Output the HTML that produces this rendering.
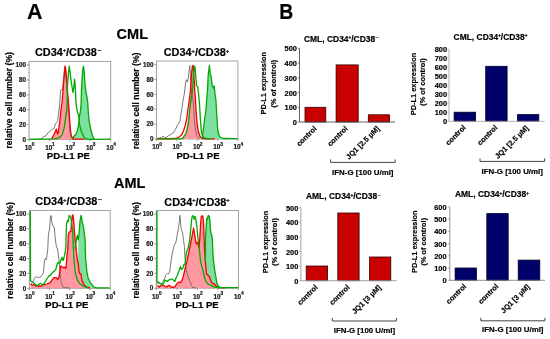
<!DOCTYPE html>
<html><head><meta charset="utf-8"><style>
html,body{margin:0;padding:0;background:#fff;width:550px;height:339px;overflow:hidden}
svg{display:block;will-change:transform}
</style></head><body>
<svg width="550" height="339" viewBox="0 0 550 339" font-family="&quot;Liberation Sans&quot;, sans-serif" font-weight="bold">
<style>text{stroke:currentColor;stroke-width:0.18px}</style>
<rect width="550" height="339" fill="#fff"/>
<text transform="translate(26.9 18.8) scale(0.95 1)" font-size="22.6">A</text>
<text transform="translate(279.2 18.8) scale(0.86 1)" font-size="22.6">B</text>
<text x="132.3" y="39.1" font-size="14.5" text-anchor="middle" fill="#000" >CML</text>
<text x="129.7" y="187.6" font-size="14.5" text-anchor="middle" fill="#000" >AML</text>
<rect x="29.1" y="61.4" width="81.6" height="78.1" fill="none" stroke="#9a9a9a" stroke-width="0.9"/>
<line x1="26.900000000000002" y1="139.5" x2="29.1" y2="139.5" stroke="#777" stroke-width="0.7"/>
<text x="25.900000000000002" y="141.7" font-size="6.3" text-anchor="end" fill="#222" >0</text>
<line x1="26.900000000000002" y1="124.62" x2="29.1" y2="124.62" stroke="#777" stroke-width="0.7"/>
<text x="25.900000000000002" y="126.82000000000001" font-size="6.3" text-anchor="end" fill="#222" >20</text>
<line x1="26.900000000000002" y1="109.74000000000001" x2="29.1" y2="109.74000000000001" stroke="#777" stroke-width="0.7"/>
<text x="25.900000000000002" y="111.94000000000001" font-size="6.3" text-anchor="end" fill="#222" >40</text>
<line x1="26.900000000000002" y1="94.86000000000001" x2="29.1" y2="94.86000000000001" stroke="#777" stroke-width="0.7"/>
<text x="25.900000000000002" y="97.06000000000002" font-size="6.3" text-anchor="end" fill="#222" >60</text>
<line x1="26.900000000000002" y1="79.98" x2="29.1" y2="79.98" stroke="#777" stroke-width="0.7"/>
<text x="25.900000000000002" y="82.18" font-size="6.3" text-anchor="end" fill="#222" >80</text>
<line x1="26.900000000000002" y1="65.10000000000001" x2="29.1" y2="65.10000000000001" stroke="#777" stroke-width="0.7"/>
<text x="25.900000000000002" y="67.30000000000001" font-size="6.3" text-anchor="end" fill="#222" >100</text>
<line x1="28.0" y1="139.5" x2="29.1" y2="139.5" stroke="#999" stroke-width="0.5"/>
<line x1="28.0" y1="135.78" x2="29.1" y2="135.78" stroke="#999" stroke-width="0.5"/>
<line x1="28.0" y1="132.06" x2="29.1" y2="132.06" stroke="#999" stroke-width="0.5"/>
<line x1="28.0" y1="128.34" x2="29.1" y2="128.34" stroke="#999" stroke-width="0.5"/>
<line x1="28.0" y1="124.62" x2="29.1" y2="124.62" stroke="#999" stroke-width="0.5"/>
<line x1="28.0" y1="120.9" x2="29.1" y2="120.9" stroke="#999" stroke-width="0.5"/>
<line x1="28.0" y1="117.18" x2="29.1" y2="117.18" stroke="#999" stroke-width="0.5"/>
<line x1="28.0" y1="113.46000000000001" x2="29.1" y2="113.46000000000001" stroke="#999" stroke-width="0.5"/>
<line x1="28.0" y1="109.74000000000001" x2="29.1" y2="109.74000000000001" stroke="#999" stroke-width="0.5"/>
<line x1="28.0" y1="106.02000000000001" x2="29.1" y2="106.02000000000001" stroke="#999" stroke-width="0.5"/>
<line x1="28.0" y1="102.30000000000001" x2="29.1" y2="102.30000000000001" stroke="#999" stroke-width="0.5"/>
<line x1="28.0" y1="98.58" x2="29.1" y2="98.58" stroke="#999" stroke-width="0.5"/>
<line x1="28.0" y1="94.86000000000001" x2="29.1" y2="94.86000000000001" stroke="#999" stroke-width="0.5"/>
<line x1="28.0" y1="91.14" x2="29.1" y2="91.14" stroke="#999" stroke-width="0.5"/>
<line x1="28.0" y1="87.42000000000002" x2="29.1" y2="87.42000000000002" stroke="#999" stroke-width="0.5"/>
<line x1="28.0" y1="83.7" x2="29.1" y2="83.7" stroke="#999" stroke-width="0.5"/>
<line x1="28.0" y1="79.98" x2="29.1" y2="79.98" stroke="#999" stroke-width="0.5"/>
<line x1="28.0" y1="76.26000000000002" x2="29.1" y2="76.26000000000002" stroke="#999" stroke-width="0.5"/>
<line x1="28.0" y1="72.54" x2="29.1" y2="72.54" stroke="#999" stroke-width="0.5"/>
<line x1="28.0" y1="68.82000000000001" x2="29.1" y2="68.82000000000001" stroke="#999" stroke-width="0.5"/>
<line x1="28.0" y1="65.10000000000001" x2="29.1" y2="65.10000000000001" stroke="#999" stroke-width="0.5"/>
<line x1="29.1" y1="139.5" x2="29.1" y2="141.5" stroke="#777" stroke-width="0.7"/>
<text x="28.3" y="149.8" font-size="6.4" text-anchor="middle" fill="#222" >10</text>
<text x="33.0" y="146.3" font-size="4.8" text-anchor="middle" fill="#222" >0</text>
<line x1="49.5" y1="139.5" x2="49.5" y2="141.5" stroke="#777" stroke-width="0.7"/>
<text x="48.7" y="149.8" font-size="6.4" text-anchor="middle" fill="#222" >10</text>
<text x="53.4" y="146.3" font-size="4.8" text-anchor="middle" fill="#222" >1</text>
<line x1="69.9" y1="139.5" x2="69.9" y2="141.5" stroke="#777" stroke-width="0.7"/>
<text x="69.10000000000001" y="149.8" font-size="6.4" text-anchor="middle" fill="#222" >10</text>
<text x="73.80000000000001" y="146.3" font-size="4.8" text-anchor="middle" fill="#222" >2</text>
<line x1="90.3" y1="139.5" x2="90.3" y2="141.5" stroke="#777" stroke-width="0.7"/>
<text x="89.5" y="149.8" font-size="6.4" text-anchor="middle" fill="#222" >10</text>
<text x="94.2" y="146.3" font-size="4.8" text-anchor="middle" fill="#222" >3</text>
<line x1="110.69999999999999" y1="139.5" x2="110.69999999999999" y2="141.5" stroke="#777" stroke-width="0.7"/>
<text x="109.89999999999999" y="149.8" font-size="6.4" text-anchor="middle" fill="#222" >10</text>
<text x="114.6" y="146.3" font-size="4.8" text-anchor="middle" fill="#222" >4</text>
<polyline points="51.7,139.3 52.9,136.3 54.1,134.5 55.3,131.4 56.3,129.0 57.1,132.6 57.7,133.9 58.3,132.6 58.9,127.8 59.9,120.6 60.7,112.1 61.5,106.0 62.2,101.0 63.4,85.5 64.4,73.8 65.2,66.1 66.0,71.4 66.7,79.6 67.5,91.4 68.3,100.0 69.2,112.0 69.8,122.0 70.4,130.0 71.4,136.0 73.3,139.3 73.3,139.5 51.7,139.5" fill="#ff98a0" stroke="none" stroke-width="0" stroke-linejoin="round" />
<polyline points="73.3,139.3 73.9,136.3 75.7,134.5 77.5,130.2 78.7,124.2 79.2,120.0 79.5,115.7 80.3,112.1 81.0,106.0 81.2,100.0 81.5,90.0 82.3,75.0 83.0,68.0 83.5,66.1 84.3,73.8 85.1,85.6 86.0,92.0 87.0,97.4 87.7,102.0 88.3,112.5 89.2,121.5 90.7,129.0 92.2,135.0 93.7,138.7 95.0,139.3 95.0,139.5 73.3,139.5" fill="#7ee0a0" stroke="none" stroke-width="0" stroke-linejoin="round" />
<polyline points="29.5,139.3 41.0,139.3 43.2,136.9 46.2,135.7 48.0,132.6 49.3,132.0 50.5,130.8 51.7,129.6 52.9,129.0 54.1,128.4 55.3,124.2 56.5,122.4 57.7,120.6 58.3,115.7 58.9,110.9 59.5,106.0 59.9,102.0 60.5,90.2 61.6,89.6 62.5,90.2 63.4,79.6 64.6,67.9 65.2,66.1 65.8,77.3 66.4,82.6 67.2,85.0 66.9,87.3 67.5,95.0 68.3,105.0 69.2,120.0 70.0,132.0 71.0,137.5 73.0,139.3" fill="none" stroke="#6a6a6a" stroke-width="0.9" stroke-linejoin="round" />
<polyline points="51.7,139.3 52.9,136.3 54.1,134.5 55.3,131.4 56.3,129.0 57.1,132.6 57.7,133.9 58.3,132.6 58.9,127.8 59.9,120.6 60.7,112.1 61.5,106.0 62.2,101.0 63.4,85.5 64.4,73.8 65.2,66.1 66.0,71.4 66.7,79.6 67.5,91.4 68.3,100.0 69.2,112.0 69.8,122.0 70.4,130.0 71.4,136.0 73.3,139.1 84.0,139.2" fill="none" stroke="#f50000" stroke-width="1.3" stroke-linejoin="round" />
<polyline points="73.3,139.3 73.9,136.3 75.7,134.5 77.5,130.2 78.7,124.2 79.2,120.0 79.5,115.7 80.3,112.1 81.0,106.0 81.2,100.0 81.5,90.0 82.3,75.0 83.0,68.0 83.5,66.1 84.3,73.8 85.1,85.6 86.0,92.0 87.0,97.4 87.7,102.0 88.3,112.5 89.2,121.5 90.7,129.0 92.2,135.0 93.7,138.7 95.0,139.3 110.5,139.2" fill="none" stroke="#00a800" stroke-width="1.3" stroke-linejoin="round" />
<polyline points="29.5,139.3 54.1,138.9 57.7,138.3 60.1,136.9 62.0,135.1 63.2,131.4 64.4,126.6 65.6,118.1 66.8,109.7 67.2,102.0 67.5,85.5 68.4,73.8 69.3,66.1 70.5,76.1 71.4,83.2 71.9,86.0 73.1,92.7 74.0,85.6 74.5,79.1 75.2,85.6 75.7,95.0 75.8,100.0 76.3,106.0 77.5,112.1 78.7,115.7 79.1,120.0 79.5,124.2 80.2,127.0 81.1,130.2 82.3,133.9 83.9,136.9 85.3,138.7 88.0,139.3 95.0,139.3" fill="none" stroke="#00a800" stroke-width="1.3" stroke-linejoin="round" />
<rect x="156.6" y="61.0" width="81.3" height="78.0" fill="none" stroke="#9a9a9a" stroke-width="0.9"/>
<line x1="154.4" y1="139.0" x2="156.6" y2="139.0" stroke="#777" stroke-width="0.7"/>
<text x="153.4" y="141.2" font-size="6.3" text-anchor="end" fill="#222" >0</text>
<line x1="154.4" y1="124.14" x2="156.6" y2="124.14" stroke="#777" stroke-width="0.7"/>
<text x="153.4" y="126.34" font-size="6.3" text-anchor="end" fill="#222" >20</text>
<line x1="154.4" y1="109.28" x2="156.6" y2="109.28" stroke="#777" stroke-width="0.7"/>
<text x="153.4" y="111.48" font-size="6.3" text-anchor="end" fill="#222" >40</text>
<line x1="154.4" y1="94.42" x2="156.6" y2="94.42" stroke="#777" stroke-width="0.7"/>
<text x="153.4" y="96.62" font-size="6.3" text-anchor="end" fill="#222" >60</text>
<line x1="154.4" y1="79.56" x2="156.6" y2="79.56" stroke="#777" stroke-width="0.7"/>
<text x="153.4" y="81.76" font-size="6.3" text-anchor="end" fill="#222" >80</text>
<line x1="154.4" y1="64.7" x2="156.6" y2="64.7" stroke="#777" stroke-width="0.7"/>
<text x="153.4" y="66.9" font-size="6.3" text-anchor="end" fill="#222" >100</text>
<line x1="155.5" y1="139.0" x2="156.6" y2="139.0" stroke="#999" stroke-width="0.5"/>
<line x1="155.5" y1="135.285" x2="156.6" y2="135.285" stroke="#999" stroke-width="0.5"/>
<line x1="155.5" y1="131.57" x2="156.6" y2="131.57" stroke="#999" stroke-width="0.5"/>
<line x1="155.5" y1="127.855" x2="156.6" y2="127.855" stroke="#999" stroke-width="0.5"/>
<line x1="155.5" y1="124.14" x2="156.6" y2="124.14" stroke="#999" stroke-width="0.5"/>
<line x1="155.5" y1="120.425" x2="156.6" y2="120.425" stroke="#999" stroke-width="0.5"/>
<line x1="155.5" y1="116.71000000000001" x2="156.6" y2="116.71000000000001" stroke="#999" stroke-width="0.5"/>
<line x1="155.5" y1="112.995" x2="156.6" y2="112.995" stroke="#999" stroke-width="0.5"/>
<line x1="155.5" y1="109.28" x2="156.6" y2="109.28" stroke="#999" stroke-width="0.5"/>
<line x1="155.5" y1="105.565" x2="156.6" y2="105.565" stroke="#999" stroke-width="0.5"/>
<line x1="155.5" y1="101.85" x2="156.6" y2="101.85" stroke="#999" stroke-width="0.5"/>
<line x1="155.5" y1="98.13499999999999" x2="156.6" y2="98.13499999999999" stroke="#999" stroke-width="0.5"/>
<line x1="155.5" y1="94.42" x2="156.6" y2="94.42" stroke="#999" stroke-width="0.5"/>
<line x1="155.5" y1="90.705" x2="156.6" y2="90.705" stroke="#999" stroke-width="0.5"/>
<line x1="155.5" y1="86.99000000000001" x2="156.6" y2="86.99000000000001" stroke="#999" stroke-width="0.5"/>
<line x1="155.5" y1="83.275" x2="156.6" y2="83.275" stroke="#999" stroke-width="0.5"/>
<line x1="155.5" y1="79.56" x2="156.6" y2="79.56" stroke="#999" stroke-width="0.5"/>
<line x1="155.5" y1="75.845" x2="156.6" y2="75.845" stroke="#999" stroke-width="0.5"/>
<line x1="155.5" y1="72.13" x2="156.6" y2="72.13" stroke="#999" stroke-width="0.5"/>
<line x1="155.5" y1="68.415" x2="156.6" y2="68.415" stroke="#999" stroke-width="0.5"/>
<line x1="155.5" y1="64.7" x2="156.6" y2="64.7" stroke="#999" stroke-width="0.5"/>
<line x1="156.6" y1="139.0" x2="156.6" y2="141.0" stroke="#777" stroke-width="0.7"/>
<text x="155.79999999999998" y="149.3" font-size="6.4" text-anchor="middle" fill="#222" >10</text>
<text x="160.5" y="145.8" font-size="4.8" text-anchor="middle" fill="#222" >0</text>
<line x1="176.92499999999998" y1="139.0" x2="176.92499999999998" y2="141.0" stroke="#777" stroke-width="0.7"/>
<text x="176.12499999999997" y="149.3" font-size="6.4" text-anchor="middle" fill="#222" >10</text>
<text x="180.825" y="145.8" font-size="4.8" text-anchor="middle" fill="#222" >1</text>
<line x1="197.25" y1="139.0" x2="197.25" y2="141.0" stroke="#777" stroke-width="0.7"/>
<text x="196.45" y="149.3" font-size="6.4" text-anchor="middle" fill="#222" >10</text>
<text x="201.15" y="145.8" font-size="4.8" text-anchor="middle" fill="#222" >2</text>
<line x1="217.575" y1="139.0" x2="217.575" y2="141.0" stroke="#777" stroke-width="0.7"/>
<text x="216.77499999999998" y="149.3" font-size="6.4" text-anchor="middle" fill="#222" >10</text>
<text x="221.475" y="145.8" font-size="4.8" text-anchor="middle" fill="#222" >3</text>
<line x1="237.89999999999998" y1="139.0" x2="237.89999999999998" y2="141.0" stroke="#777" stroke-width="0.7"/>
<text x="237.09999999999997" y="149.3" font-size="6.4" text-anchor="middle" fill="#222" >10</text>
<text x="241.79999999999998" y="145.8" font-size="4.8" text-anchor="middle" fill="#222" >4</text>
<polyline points="179.2,139.0 182.8,137.0 185.2,133.0 187.0,125.0 188.3,115.0 189.5,102.0 190.4,91.6 191.2,79.7 191.8,71.5 192.4,66.1 193.0,65.5 193.6,71.5 194.2,79.7 194.8,91.6 195.5,100.0 196.1,112.0 197.3,125.0 198.5,132.0 200.3,137.0 203.3,139.0 203.3,139.0 179.2,139.0" fill="#ff98a0" stroke="none" stroke-width="0" stroke-linejoin="round" />
<polyline points="201.7,139.0 202.1,138.0 203.3,130.0 204.5,120.0 206.0,110.0 206.6,101.0 207.5,90.0 208.2,75.0 209.4,65.5 210.3,75.0 211.1,76.0 212.1,85.0 213.3,88.0 214.2,86.0 215.1,95.0 215.9,100.0 216.8,115.0 217.7,130.0 218.9,135.0 220.1,137.0 223.1,138.5 224.0,139.0 224.0,139.0 201.7,139.0" fill="#7ee0a0" stroke="none" stroke-width="0" stroke-linejoin="round" />
<polyline points="157.0,138.5 161.2,137.5 163.0,136.3 164.8,137.5 166.0,137.5 168.6,135.6 171.2,134.3 173.1,133.0 174.4,131.0 175.7,129.1 177.0,125.8 178.3,123.9 179.6,121.9 180.3,119.3 180.9,114.2 181.6,110.3 182.2,106.4 182.9,101.2 184.1,95.1 185.0,88.0 185.7,82.1 186.5,79.7 187.3,82.1 188.3,78.5 188.9,72.6 189.5,66.7 189.8,65.5 190.4,73.8 190.9,85.6 192.0,95.0 193.1,100.0 194.3,120.0 195.5,130.0 197.3,137.0 199.7,139.0" fill="none" stroke="#6a6a6a" stroke-width="0.9" stroke-linejoin="round" />
<polyline points="157.0,138.8 175.7,138.5 179.0,137.0 181.6,134.9 183.5,131.0 185.5,124.5 186.8,118.0 188.0,109.0 189.3,100.0 190.4,91.6 191.2,79.7 191.8,71.5 192.4,66.1 193.0,65.5 193.6,71.5 194.2,79.7 194.8,91.6 195.5,100.0 196.1,112.0 197.3,125.0 198.5,132.0 200.3,137.0 203.3,138.8 215.0,138.8" fill="none" stroke="#f50000" stroke-width="1.3" stroke-linejoin="round" />
<polyline points="201.7,139.0 202.1,138.0 203.3,130.0 204.5,120.0 206.0,110.0 206.6,101.0 207.5,90.0 208.2,75.0 209.4,65.5 210.3,75.0 211.1,76.0 212.1,85.0 213.3,88.0 214.2,86.0 215.1,95.0 215.9,100.0 216.8,115.0 217.7,130.0 218.9,135.0 220.1,137.0 223.1,138.5 237.5,138.7" fill="none" stroke="#00a800" stroke-width="1.3" stroke-linejoin="round" />
<polyline points="157.0,138.8 180.0,138.8 182.8,138.3 184.2,136.2 186.1,133.6 187.4,128.4 188.7,121.9 189.6,112.0 190.4,104.0 191.2,100.0 191.8,95.1 192.4,91.6 193.0,83.3 193.6,73.8 194.2,66.7 194.8,66.1 195.4,71.5 196.0,79.7 196.5,85.6 197.7,86.8 198.3,91.6 198.9,97.5 199.5,104.0 200.3,118.0 200.9,126.0 201.5,133.0 203.3,137.0 206.0,138.5 212.0,138.8" fill="none" stroke="#00a800" stroke-width="1.3" stroke-linejoin="round" />
<rect x="29.4" y="210.4" width="80.8" height="77.9" fill="none" stroke="#9a9a9a" stroke-width="0.9"/>
<line x1="27.2" y1="288.3" x2="29.4" y2="288.3" stroke="#777" stroke-width="0.7"/>
<text x="26.2" y="290.5" font-size="6.3" text-anchor="end" fill="#222" >0</text>
<line x1="27.2" y1="273.46000000000004" x2="29.4" y2="273.46000000000004" stroke="#777" stroke-width="0.7"/>
<text x="26.2" y="275.66" font-size="6.3" text-anchor="end" fill="#222" >20</text>
<line x1="27.2" y1="258.62" x2="29.4" y2="258.62" stroke="#777" stroke-width="0.7"/>
<text x="26.2" y="260.82" font-size="6.3" text-anchor="end" fill="#222" >40</text>
<line x1="27.2" y1="243.78" x2="29.4" y2="243.78" stroke="#777" stroke-width="0.7"/>
<text x="26.2" y="245.98" font-size="6.3" text-anchor="end" fill="#222" >60</text>
<line x1="27.2" y1="228.94" x2="29.4" y2="228.94" stroke="#777" stroke-width="0.7"/>
<text x="26.2" y="231.14" font-size="6.3" text-anchor="end" fill="#222" >80</text>
<line x1="27.2" y1="214.10000000000002" x2="29.4" y2="214.10000000000002" stroke="#777" stroke-width="0.7"/>
<text x="26.2" y="216.3" font-size="6.3" text-anchor="end" fill="#222" >100</text>
<line x1="28.299999999999997" y1="288.3" x2="29.4" y2="288.3" stroke="#999" stroke-width="0.5"/>
<line x1="28.299999999999997" y1="284.59000000000003" x2="29.4" y2="284.59000000000003" stroke="#999" stroke-width="0.5"/>
<line x1="28.299999999999997" y1="280.88" x2="29.4" y2="280.88" stroke="#999" stroke-width="0.5"/>
<line x1="28.299999999999997" y1="277.17" x2="29.4" y2="277.17" stroke="#999" stroke-width="0.5"/>
<line x1="28.299999999999997" y1="273.46000000000004" x2="29.4" y2="273.46000000000004" stroke="#999" stroke-width="0.5"/>
<line x1="28.299999999999997" y1="269.75" x2="29.4" y2="269.75" stroke="#999" stroke-width="0.5"/>
<line x1="28.299999999999997" y1="266.04" x2="29.4" y2="266.04" stroke="#999" stroke-width="0.5"/>
<line x1="28.299999999999997" y1="262.33000000000004" x2="29.4" y2="262.33000000000004" stroke="#999" stroke-width="0.5"/>
<line x1="28.299999999999997" y1="258.62" x2="29.4" y2="258.62" stroke="#999" stroke-width="0.5"/>
<line x1="28.299999999999997" y1="254.91000000000003" x2="29.4" y2="254.91000000000003" stroke="#999" stroke-width="0.5"/>
<line x1="28.299999999999997" y1="251.20000000000002" x2="29.4" y2="251.20000000000002" stroke="#999" stroke-width="0.5"/>
<line x1="28.299999999999997" y1="247.49" x2="29.4" y2="247.49" stroke="#999" stroke-width="0.5"/>
<line x1="28.299999999999997" y1="243.78" x2="29.4" y2="243.78" stroke="#999" stroke-width="0.5"/>
<line x1="28.299999999999997" y1="240.07" x2="29.4" y2="240.07" stroke="#999" stroke-width="0.5"/>
<line x1="28.299999999999997" y1="236.36" x2="29.4" y2="236.36" stroke="#999" stroke-width="0.5"/>
<line x1="28.299999999999997" y1="232.65" x2="29.4" y2="232.65" stroke="#999" stroke-width="0.5"/>
<line x1="28.299999999999997" y1="228.94" x2="29.4" y2="228.94" stroke="#999" stroke-width="0.5"/>
<line x1="28.299999999999997" y1="225.23000000000002" x2="29.4" y2="225.23000000000002" stroke="#999" stroke-width="0.5"/>
<line x1="28.299999999999997" y1="221.52" x2="29.4" y2="221.52" stroke="#999" stroke-width="0.5"/>
<line x1="28.299999999999997" y1="217.81" x2="29.4" y2="217.81" stroke="#999" stroke-width="0.5"/>
<line x1="28.299999999999997" y1="214.10000000000002" x2="29.4" y2="214.10000000000002" stroke="#999" stroke-width="0.5"/>
<line x1="29.4" y1="288.3" x2="29.4" y2="290.3" stroke="#777" stroke-width="0.7"/>
<text x="28.599999999999998" y="298.6" font-size="6.4" text-anchor="middle" fill="#222" >10</text>
<text x="33.3" y="295.1" font-size="4.8" text-anchor="middle" fill="#222" >0</text>
<line x1="49.599999999999994" y1="288.3" x2="49.599999999999994" y2="290.3" stroke="#777" stroke-width="0.7"/>
<text x="48.8" y="298.6" font-size="6.4" text-anchor="middle" fill="#222" >10</text>
<text x="53.49999999999999" y="295.1" font-size="4.8" text-anchor="middle" fill="#222" >1</text>
<line x1="69.8" y1="288.3" x2="69.8" y2="290.3" stroke="#777" stroke-width="0.7"/>
<text x="69.0" y="298.6" font-size="6.4" text-anchor="middle" fill="#222" >10</text>
<text x="73.7" y="295.1" font-size="4.8" text-anchor="middle" fill="#222" >2</text>
<line x1="90.0" y1="288.3" x2="90.0" y2="290.3" stroke="#777" stroke-width="0.7"/>
<text x="89.2" y="298.6" font-size="6.4" text-anchor="middle" fill="#222" >10</text>
<text x="93.9" y="295.1" font-size="4.8" text-anchor="middle" fill="#222" >3</text>
<line x1="110.19999999999999" y1="288.3" x2="110.19999999999999" y2="290.3" stroke="#777" stroke-width="0.7"/>
<text x="109.39999999999999" y="298.6" font-size="6.4" text-anchor="middle" fill="#222" >10</text>
<text x="114.1" y="295.1" font-size="4.8" text-anchor="middle" fill="#222" >4</text>
<polyline points="77.0,288.0 77.2,265.0 78.3,250.0 78.3,240.2 79.1,232.8 80.1,220.4 81.1,215.4 82.0,220.4 82.8,224.1 83.8,229.1 85.1,240.2 85.6,259.0 86.9,272.0 88.2,278.4 90.2,282.3 92.1,284.9 94.0,287.2 95.0,288.0 95.0,288.3 77.0,288.3" fill="#7ee0a0" stroke="none" stroke-width="0" stroke-linejoin="round" />
<polyline points="30.5,284.0 32.3,285.2 34.2,284.6 35.4,285.8 37.9,286.0 41.6,286.0 42.9,285.0 44.7,284.6 46.6,284.0 48.4,283.3 50.3,282.7 52.2,279.6 54.0,277.7 56.5,277.7 57.7,279.6 59.0,277.1 60.2,269.7 60.8,266.0 62.1,266.6 63.3,267.8 64.5,267.2 65.8,268.4 66.4,264.1 67.0,254.2 67.7,250.0 68.3,235.3 69.0,232.2 70.2,231.5 70.8,231.5 71.4,224.1 72.4,215.4 72.9,214.8 73.7,220.4 74.5,232.8 75.4,242.7 75.9,246.0 76.5,252.5 77.2,259.0 78.5,265.5 79.1,272.0 80.0,273.9 81.1,273.9 81.3,277.1 82.4,281.7 84.3,284.9 86.3,286.9 87.6,287.5 90.0,288.0 90.0,288.3 30.5,288.3" fill="#ff98a0" stroke="none" stroke-width="0" stroke-linejoin="round" />
<polyline points="31.1,284.6 33.6,280.2 34.8,277.7 36.1,276.5 37.3,277.7 38.5,277.1 39.8,277.7 41.0,276.5 42.3,274.6 43.5,272.8 43.9,266.6 44.7,259.8 45.3,258.5 46.0,259.8 46.6,257.9 47.2,254.2 47.8,248.0 48.4,235.0 49.7,228.0 50.5,216.0 51.2,215.4 51.8,222.0 53.0,226.0 54.3,227.0 54.9,235.0 56.1,245.0 57.7,250.0 59.0,260.0 60.2,275.0 61.4,283.0 63.3,287.5 70.0,288.0" fill="none" stroke="#6a6a6a" stroke-width="0.9" stroke-linejoin="round" />
<polyline points="30.5,284.0 32.3,285.2 34.2,284.6 35.4,285.8 37.9,286.0 41.6,286.0 42.9,285.0 44.7,284.6 46.6,284.0 48.4,283.3 50.3,282.7 52.2,279.6 54.0,277.7 56.5,277.7 57.7,279.6 59.0,277.1 60.2,269.7 60.8,266.0 62.1,266.6 63.3,267.8 64.5,267.2 65.8,268.4 66.4,264.1 67.0,254.2 67.7,250.0 68.3,235.3 69.0,232.2 70.2,231.5 70.8,231.5 71.4,224.1 72.4,215.4 72.9,214.8 73.7,220.4 74.5,232.8 75.4,242.7 75.9,246.0 76.5,252.5 77.2,259.0 78.5,265.5 79.1,272.0 80.0,273.9 81.1,273.9 81.3,277.1 82.4,281.7 84.3,284.9 86.3,286.9 87.6,287.5 90.0,287.8" fill="none" stroke="#f50000" stroke-width="1.3" stroke-linejoin="round" />
<polyline points="78.3,240.2 79.1,232.8 80.1,220.4 81.1,215.4 82.0,220.4 82.8,224.1 83.8,229.1 85.1,240.2 85.6,259.0 86.9,272.0 88.2,278.4 90.2,282.3 92.1,284.9 94.0,287.2 96.0,287.9 109.5,287.9" fill="none" stroke="#00a800" stroke-width="1.3" stroke-linejoin="round" />
<polyline points="30.3,211.0 30.5,280.8 31.7,281.5 33.6,282.7 35.4,284.6 37.3,285.8 39.2,284.0 40.4,283.3 41.6,284.0 42.9,285.2 44.1,283.3 45.3,281.5 47.2,278.4 49.1,275.9 50.9,274.6 52.8,272.2 54.6,270.9 55.9,269.0 57.1,264.1 58.3,262.3 59.6,263.5 60.8,260.4 62.1,257.3 63.3,260.4 64.5,255.4 65.2,251.7 65.8,248.0 66.5,224.1 67.5,220.4 68.3,221.6 69.2,215.4 69.9,216.1 70.8,217.3 71.7,224.1 72.7,232.8 73.3,246.0 73.9,259.0 75.2,272.0 77.2,279.7 79.8,283.6 82.4,285.6 85.0,286.9 88.0,287.8" fill="none" stroke="#00a800" stroke-width="1.3" stroke-linejoin="round" />
<polyline points="75.2,248.9 76.4,239.0 77.4,235.3 78.3,240.2" fill="none" stroke="#00a800" stroke-width="1.3" stroke-linejoin="round" />
<rect x="156.4" y="210.5" width="82.0" height="77.7" fill="none" stroke="#9a9a9a" stroke-width="0.9"/>
<line x1="154.20000000000002" y1="288.2" x2="156.4" y2="288.2" stroke="#777" stroke-width="0.7"/>
<text x="153.20000000000002" y="290.4" font-size="6.3" text-anchor="end" fill="#222" >0</text>
<line x1="154.20000000000002" y1="273.4" x2="156.4" y2="273.4" stroke="#777" stroke-width="0.7"/>
<text x="153.20000000000002" y="275.59999999999997" font-size="6.3" text-anchor="end" fill="#222" >20</text>
<line x1="154.20000000000002" y1="258.59999999999997" x2="156.4" y2="258.59999999999997" stroke="#777" stroke-width="0.7"/>
<text x="153.20000000000002" y="260.79999999999995" font-size="6.3" text-anchor="end" fill="#222" >40</text>
<line x1="154.20000000000002" y1="243.79999999999998" x2="156.4" y2="243.79999999999998" stroke="#777" stroke-width="0.7"/>
<text x="153.20000000000002" y="245.99999999999997" font-size="6.3" text-anchor="end" fill="#222" >60</text>
<line x1="154.20000000000002" y1="229.0" x2="156.4" y2="229.0" stroke="#777" stroke-width="0.7"/>
<text x="153.20000000000002" y="231.2" font-size="6.3" text-anchor="end" fill="#222" >80</text>
<line x1="154.20000000000002" y1="214.2" x2="156.4" y2="214.2" stroke="#777" stroke-width="0.7"/>
<text x="153.20000000000002" y="216.39999999999998" font-size="6.3" text-anchor="end" fill="#222" >100</text>
<line x1="155.3" y1="288.2" x2="156.4" y2="288.2" stroke="#999" stroke-width="0.5"/>
<line x1="155.3" y1="284.5" x2="156.4" y2="284.5" stroke="#999" stroke-width="0.5"/>
<line x1="155.3" y1="280.8" x2="156.4" y2="280.8" stroke="#999" stroke-width="0.5"/>
<line x1="155.3" y1="277.09999999999997" x2="156.4" y2="277.09999999999997" stroke="#999" stroke-width="0.5"/>
<line x1="155.3" y1="273.4" x2="156.4" y2="273.4" stroke="#999" stroke-width="0.5"/>
<line x1="155.3" y1="269.7" x2="156.4" y2="269.7" stroke="#999" stroke-width="0.5"/>
<line x1="155.3" y1="266.0" x2="156.4" y2="266.0" stroke="#999" stroke-width="0.5"/>
<line x1="155.3" y1="262.3" x2="156.4" y2="262.3" stroke="#999" stroke-width="0.5"/>
<line x1="155.3" y1="258.59999999999997" x2="156.4" y2="258.59999999999997" stroke="#999" stroke-width="0.5"/>
<line x1="155.3" y1="254.89999999999998" x2="156.4" y2="254.89999999999998" stroke="#999" stroke-width="0.5"/>
<line x1="155.3" y1="251.2" x2="156.4" y2="251.2" stroke="#999" stroke-width="0.5"/>
<line x1="155.3" y1="247.5" x2="156.4" y2="247.5" stroke="#999" stroke-width="0.5"/>
<line x1="155.3" y1="243.79999999999998" x2="156.4" y2="243.79999999999998" stroke="#999" stroke-width="0.5"/>
<line x1="155.3" y1="240.1" x2="156.4" y2="240.1" stroke="#999" stroke-width="0.5"/>
<line x1="155.3" y1="236.39999999999998" x2="156.4" y2="236.39999999999998" stroke="#999" stroke-width="0.5"/>
<line x1="155.3" y1="232.7" x2="156.4" y2="232.7" stroke="#999" stroke-width="0.5"/>
<line x1="155.3" y1="229.0" x2="156.4" y2="229.0" stroke="#999" stroke-width="0.5"/>
<line x1="155.3" y1="225.29999999999998" x2="156.4" y2="225.29999999999998" stroke="#999" stroke-width="0.5"/>
<line x1="155.3" y1="221.59999999999997" x2="156.4" y2="221.59999999999997" stroke="#999" stroke-width="0.5"/>
<line x1="155.3" y1="217.89999999999998" x2="156.4" y2="217.89999999999998" stroke="#999" stroke-width="0.5"/>
<line x1="155.3" y1="214.2" x2="156.4" y2="214.2" stroke="#999" stroke-width="0.5"/>
<line x1="156.4" y1="288.2" x2="156.4" y2="290.2" stroke="#777" stroke-width="0.7"/>
<text x="155.6" y="298.5" font-size="6.4" text-anchor="middle" fill="#222" >10</text>
<text x="160.3" y="295.0" font-size="4.8" text-anchor="middle" fill="#222" >0</text>
<line x1="176.9" y1="288.2" x2="176.9" y2="290.2" stroke="#777" stroke-width="0.7"/>
<text x="176.1" y="298.5" font-size="6.4" text-anchor="middle" fill="#222" >10</text>
<text x="180.8" y="295.0" font-size="4.8" text-anchor="middle" fill="#222" >1</text>
<line x1="197.4" y1="288.2" x2="197.4" y2="290.2" stroke="#777" stroke-width="0.7"/>
<text x="196.6" y="298.5" font-size="6.4" text-anchor="middle" fill="#222" >10</text>
<text x="201.3" y="295.0" font-size="4.8" text-anchor="middle" fill="#222" >2</text>
<line x1="217.9" y1="288.2" x2="217.9" y2="290.2" stroke="#777" stroke-width="0.7"/>
<text x="217.1" y="298.5" font-size="6.4" text-anchor="middle" fill="#222" >10</text>
<text x="221.8" y="295.0" font-size="4.8" text-anchor="middle" fill="#222" >3</text>
<line x1="238.4" y1="288.2" x2="238.4" y2="290.2" stroke="#777" stroke-width="0.7"/>
<text x="237.6" y="298.5" font-size="6.4" text-anchor="middle" fill="#222" >10</text>
<text x="242.3" y="295.0" font-size="4.8" text-anchor="middle" fill="#222" >4</text>
<polyline points="205.4,262.0 205.4,240.0 206.2,227.0 206.8,218.5 207.4,219.1 208.0,216.0 208.7,215.4 209.3,216.7 209.9,221.6 210.5,230.3 211.1,234.0 211.8,235.2 212.4,240.2 213.1,257.7 214.6,269.5 216.1,278.3 216.8,282.7 218.0,285.7 220.0,287.5 220.0,288.2 205.4,288.2" fill="#7ee0a0" stroke="none" stroke-width="0" stroke-linejoin="round" />
<polyline points="157.5,285.2 159.3,287.0 161.2,285.2 163.1,285.2 164.9,286.4 166.8,287.0 168.6,285.2 170.5,286.4 172.3,287.4 174.8,287.0 176.7,283.9 178.5,282.1 180.4,282.7 182.0,280.2 183.2,276.5 184.5,271.5 185.7,265.3 187.0,261.6 188.0,256.0 189.5,248.9 191.0,241.5 192.4,234.2 193.6,228.2 194.6,234.2 195.7,241.5 196.6,243.8 197.2,242.3 198.0,244.5 199.1,247.5 199.8,238.6 200.6,223.8 201.3,216.4 202.0,215.7 202.8,216.4 203.5,220.9 204.0,234.2 204.5,248.9 205.4,262.0 206.5,273.9 208.0,275.3 209.5,276.8 210.9,281.2 212.4,283.4 214.6,284.2 216.0,286.0 218.0,287.5 218.0,288.2 157.5,288.2" fill="#ff98a0" stroke="none" stroke-width="0" stroke-linejoin="round" />
<polyline points="157.5,281.5 159.3,282.1 160.6,283.3 162.4,283.3 163.7,280.2 164.9,277.7 166.2,274.6 167.4,273.4 168.6,274.0 169.9,270.3 171.1,260.4 172.3,253.0 173.0,250.0 174.2,245.2 175.2,243.9 176.1,241.5 177.3,234.0 178.5,227.8 179.4,221.6 179.8,215.4 180.4,220.4 181.0,227.8 181.9,230.9 182.6,232.8 183.5,240.2 184.4,246.4 185.1,260.4 186.3,270.3 187.6,275.3 189.4,280.2 191.3,285.2 192.5,287.5 196.0,287.8" fill="none" stroke="#6a6a6a" stroke-width="0.9" stroke-linejoin="round" />
<polyline points="157.5,285.2 159.3,287.0 161.2,285.2 163.1,285.2 164.9,286.4 166.8,287.0 168.6,285.2 170.5,286.4 172.3,287.4 174.8,287.0 176.7,283.9 178.5,282.1 180.4,282.7 182.0,280.2 183.2,276.5 184.5,271.5 185.7,265.3 187.0,261.6 188.0,256.0 189.5,248.9 191.0,241.5 192.4,234.2 193.6,228.2 194.6,234.2 195.7,241.5 196.6,243.8 197.2,242.3 198.0,244.5 199.1,247.5 199.8,238.6 200.6,223.8 201.3,216.4 202.0,215.7 202.8,216.4 203.5,220.9 204.0,234.2 204.5,248.9 205.4,262.0 206.5,273.9 208.0,275.3 209.5,276.8 210.9,281.2 212.4,283.4 214.6,284.2 216.0,286.0 218.0,287.5 225.0,287.8" fill="none" stroke="#f50000" stroke-width="1.3" stroke-linejoin="round" />
<polyline points="205.4,262.0 205.4,240.0 206.2,227.0 206.8,218.5 207.4,219.1 208.0,216.0 208.7,215.4 209.3,216.7 209.9,221.6 210.5,230.3 211.1,234.0 211.8,235.2 212.4,240.2 213.1,257.7 214.6,269.5 216.1,278.3 216.8,282.7 218.0,285.7 220.0,287.5 238.0,287.7" fill="none" stroke="#00a800" stroke-width="1.3" stroke-linejoin="round" />
<polyline points="156.9,211.0 156.9,282.1 157.5,282.7 159.3,283.3 161.2,283.9 162.4,285.2 163.7,282.7 164.9,280.2 166.2,280.8 167.4,281.5 168.6,280.2 169.9,279.6 171.7,279.0 173.6,280.2 174.8,281.5 176.1,277.7 177.3,275.3 179.2,270.3 180.4,266.6 181.6,269.7 182.9,267.8 184.1,264.1 185.1,264.1 185.7,259.2 186.3,253.0 187.0,250.5 188.0,248.9 189.5,241.5 190.7,229.7 191.7,219.4 192.4,215.7 193.6,216.4 194.2,219.4 195.1,216.4 196.1,220.9 196.9,226.8 197.6,234.2 198.3,241.5 199.1,247.5 199.8,253.4 200.6,262.0 202.8,269.5 204.3,276.8 205.8,281.2 208.0,284.2 210.2,284.9 214.0,287.0 220.0,287.7" fill="none" stroke="#00a800" stroke-width="1.3" stroke-linejoin="round" />
<text x="68.2" y="55.5" font-size="10.9" text-anchor="middle" fill="#000" >CD34<tspan dy="-3.4" font-size="5.6">+</tspan><tspan dy="3.4">/CD38</tspan><tspan dy="-3.0" dx="0.3" font-size="7.2" font-weight="normal" fill="#333">−</tspan></text>
<text x="196.4" y="56.0" font-size="10.9" text-anchor="middle" fill="#000" >CD34<tspan dy="-3.4" font-size="5.6">+</tspan><tspan dy="3.4">/CD38</tspan><tspan dy="-3.4" font-size="5.6">+</tspan></text>
<text x="68.6" y="205.2" font-size="10.9" text-anchor="middle" fill="#000" >CD34<tspan dy="-3.4" font-size="5.6">+</tspan><tspan dy="3.4">/CD38</tspan><tspan dy="-3.0" dx="0.3" font-size="7.2" font-weight="normal" fill="#333">−</tspan></text>
<text x="197.0" y="205.6" font-size="10.9" text-anchor="middle" fill="#000" >CD34<tspan dy="-3.4" font-size="5.6">+</tspan><tspan dy="3.4">/CD38</tspan><tspan dy="-3.4" font-size="5.6">+</tspan></text>
<text x="11.8" y="100.3" font-size="8.6" text-anchor="middle" fill="#000" transform="rotate(-90 11.8 100.3)">relative cell number (%)</text>
<text x="139.2" y="100.8" font-size="8.6" text-anchor="middle" fill="#000" transform="rotate(-90 139.2 100.8)">relative cell number (%)</text>
<text x="12.8" y="250.4" font-size="8.6" text-anchor="middle" fill="#000" transform="rotate(-90 12.8 250.4)">relative cell number (%)</text>
<text x="139.5" y="250.3" font-size="8.6" text-anchor="middle" fill="#000" transform="rotate(-90 139.5 250.3)">relative cell number (%)</text>
<text x="68.4" y="158.6" font-size="9.6" text-anchor="middle" fill="#000" >PD-L1 PE</text>
<text x="198.0" y="158.9" font-size="9.6" text-anchor="middle" fill="#000" >PD-L1 PE</text>
<text x="66.9" y="307.6" font-size="9.6" text-anchor="middle" fill="#000" >PD-L1 PE</text>
<text x="197.1" y="307.7" font-size="9.6" text-anchor="middle" fill="#000" >PD-L1 PE</text>
<rect x="305" y="107.3" width="20.80000000000001" height="14.700000000000003" fill="#c80000" stroke="#300" stroke-width="0.8"/>
<rect x="336.1" y="64.9" width="22.099999999999966" height="57.099999999999994" fill="#c80000" stroke="#300" stroke-width="0.8"/>
<rect x="368.3" y="114.8" width="21.30000000000001" height="7.200000000000003" fill="#c80000" stroke="#300" stroke-width="0.8"/>
<line x1="299.5" y1="48.3" x2="299.5" y2="122.0" stroke="#555" stroke-width="0.9"/>
<line x1="299.5" y1="122.0" x2="395.1" y2="122.0" stroke="#555" stroke-width="0.9"/>
<line x1="297.9" y1="122.0" x2="299.5" y2="122.0" stroke="#555" stroke-width="0.8"/>
<text x="296.9" y="125.0" font-size="7.4" text-anchor="end" fill="#000" >0</text>
<line x1="297.9" y1="107.26" x2="299.5" y2="107.26" stroke="#555" stroke-width="0.8"/>
<text x="296.9" y="110.26" font-size="7.4" text-anchor="end" fill="#000" >100</text>
<line x1="297.9" y1="92.52" x2="299.5" y2="92.52" stroke="#555" stroke-width="0.8"/>
<text x="296.9" y="95.52" font-size="7.4" text-anchor="end" fill="#000" >200</text>
<line x1="297.9" y1="77.78" x2="299.5" y2="77.78" stroke="#555" stroke-width="0.8"/>
<text x="296.9" y="80.78" font-size="7.4" text-anchor="end" fill="#000" >300</text>
<line x1="297.9" y1="63.04" x2="299.5" y2="63.04" stroke="#555" stroke-width="0.8"/>
<text x="296.9" y="66.03999999999999" font-size="7.4" text-anchor="end" fill="#000" >400</text>
<line x1="297.9" y1="48.3" x2="299.5" y2="48.3" stroke="#555" stroke-width="0.8"/>
<text x="296.9" y="51.3" font-size="7.4" text-anchor="end" fill="#000" >500</text>
<text x="304" y="41.6" font-size="8.45" text-anchor="start" fill="#000" >CML, CD34<tspan dy="-2.8" font-size="4.6">+</tspan><tspan dy="2.8">/CD38</tspan><tspan dy="-2.5" dx="0.3" font-size="6" font-weight="normal" fill="#333">−</tspan></text>
<text x="266.4" y="83.2" font-size="7.4" text-anchor="middle" fill="#000" transform="rotate(-90 266.4 83.2)">PD-L1 expression</text>
<text x="275.8" y="83.6" font-size="7.4" text-anchor="middle" fill="#000" transform="rotate(-90 275.8 83.6)">(% of control)</text>
<text x="317.1" y="129.1" font-size="7.4" text-anchor="end" fill="#000" transform="rotate(-45 317.1 129.1)">control</text>
<text x="348.1" y="129.1" font-size="7.4" text-anchor="end" fill="#000" transform="rotate(-45 348.1 129.1)">control</text>
<text x="380.0" y="129.0" font-size="7.4" text-anchor="end" fill="#000" transform="rotate(-45 380.0 129.0)">JQ1 [2.5 µM]</text>
<polyline points="330.6,159.4 330.6,162.4 395.2,162.4 395.2,159.4" fill="none" stroke="#444" stroke-width="1"/>
<text x="362.8" y="174.7" font-size="7.9" text-anchor="middle" fill="#000" >IFN-G [100 U/ml]</text>
<rect x="454.1" y="112.2" width="21.5" height="9.099999999999994" fill="#00006a" stroke="#000022" stroke-width="0.8"/>
<rect x="485.7" y="66.3" width="21.400000000000034" height="55.0" fill="#00006a" stroke="#000022" stroke-width="0.8"/>
<rect x="517.4" y="114.6" width="21.399999999999977" height="6.700000000000003" fill="#00006a" stroke="#000022" stroke-width="0.8"/>
<line x1="449.0" y1="49.22" x2="449.0" y2="121.3" stroke="#aaa" stroke-width="0.9"/>
<line x1="449.0" y1="121.3" x2="544.6" y2="121.3" stroke="#aaa" stroke-width="0.9"/>
<line x1="447.4" y1="121.3" x2="449.0" y2="121.3" stroke="#aaa" stroke-width="0.8"/>
<text x="447.1" y="124.3" font-size="7.4" text-anchor="end" fill="#000" >0</text>
<line x1="447.4" y1="112.28999999999999" x2="449.0" y2="112.28999999999999" stroke="#aaa" stroke-width="0.8"/>
<text x="447.1" y="115.28999999999999" font-size="7.4" text-anchor="end" fill="#000" >100</text>
<line x1="447.4" y1="103.28" x2="449.0" y2="103.28" stroke="#aaa" stroke-width="0.8"/>
<text x="447.1" y="106.28" font-size="7.4" text-anchor="end" fill="#000" >200</text>
<line x1="447.4" y1="94.27" x2="449.0" y2="94.27" stroke="#aaa" stroke-width="0.8"/>
<text x="447.1" y="97.27" font-size="7.4" text-anchor="end" fill="#000" >300</text>
<line x1="447.4" y1="85.25999999999999" x2="449.0" y2="85.25999999999999" stroke="#aaa" stroke-width="0.8"/>
<text x="447.1" y="88.25999999999999" font-size="7.4" text-anchor="end" fill="#000" >400</text>
<line x1="447.4" y1="76.25" x2="449.0" y2="76.25" stroke="#aaa" stroke-width="0.8"/>
<text x="447.1" y="79.25" font-size="7.4" text-anchor="end" fill="#000" >500</text>
<line x1="447.4" y1="67.24" x2="449.0" y2="67.24" stroke="#aaa" stroke-width="0.8"/>
<text x="447.1" y="70.24" font-size="7.4" text-anchor="end" fill="#000" >600</text>
<line x1="447.4" y1="58.23" x2="449.0" y2="58.23" stroke="#aaa" stroke-width="0.8"/>
<text x="447.1" y="61.23" font-size="7.4" text-anchor="end" fill="#000" >700</text>
<line x1="447.4" y1="49.22" x2="449.0" y2="49.22" stroke="#aaa" stroke-width="0.8"/>
<text x="447.1" y="52.22" font-size="7.4" text-anchor="end" fill="#000" >800</text>
<text x="453.6" y="39.8" font-size="8.45" text-anchor="start" fill="#000" >CML, CD34<tspan dy="-2.8" font-size="4.6">+</tspan><tspan dy="2.8">/CD38</tspan><tspan dy="-2.8" font-size="4.6">+</tspan></text>
<text x="415.6" y="84.0" font-size="7.4" text-anchor="middle" fill="#000" transform="rotate(-90 415.6 84.0)">PD-L1 expression</text>
<text x="424.7" y="82.0" font-size="7.4" text-anchor="middle" fill="#000" transform="rotate(-90 424.7 82.0)">(% of control)</text>
<text x="466.3" y="128.1" font-size="7.4" text-anchor="end" fill="#000" transform="rotate(-45 466.3 128.1)">control</text>
<text x="498.0" y="128.1" font-size="7.4" text-anchor="end" fill="#000" transform="rotate(-45 498.0 128.1)">control</text>
<text x="529.0" y="128.4" font-size="7.4" text-anchor="end" fill="#000" transform="rotate(-45 529.0 128.4)">JQ1 [2.5 µM]</text>
<polyline points="480,158.4 480,161.4 544.6,161.4 544.6,158.4" fill="none" stroke="#444" stroke-width="1"/>
<text x="512.2" y="174.2" font-size="7.9" text-anchor="middle" fill="#000" >IFN-G [100 U/ml]</text>
<rect x="306.2" y="266.0" width="21.400000000000034" height="14.699999999999989" fill="#c80000" stroke="#300" stroke-width="0.8"/>
<rect x="337.8" y="213.0" width="21.30000000000001" height="67.69999999999999" fill="#c80000" stroke="#300" stroke-width="0.8"/>
<rect x="369.6" y="257.0" width="21.19999999999999" height="23.69999999999999" fill="#c80000" stroke="#300" stroke-width="0.8"/>
<line x1="300.9" y1="207.7" x2="300.9" y2="280.7" stroke="#999" stroke-width="0.9"/>
<line x1="300.9" y1="280.7" x2="396.7" y2="280.7" stroke="#999" stroke-width="0.9"/>
<line x1="299.29999999999995" y1="280.7" x2="300.9" y2="280.7" stroke="#999" stroke-width="0.8"/>
<text x="298.29999999999995" y="283.7" font-size="7.4" text-anchor="end" fill="#000" >0</text>
<line x1="299.29999999999995" y1="266.09999999999997" x2="300.9" y2="266.09999999999997" stroke="#999" stroke-width="0.8"/>
<text x="298.29999999999995" y="269.09999999999997" font-size="7.4" text-anchor="end" fill="#000" >100</text>
<line x1="299.29999999999995" y1="251.5" x2="300.9" y2="251.5" stroke="#999" stroke-width="0.8"/>
<text x="298.29999999999995" y="254.5" font-size="7.4" text-anchor="end" fill="#000" >200</text>
<line x1="299.29999999999995" y1="236.89999999999998" x2="300.9" y2="236.89999999999998" stroke="#999" stroke-width="0.8"/>
<text x="298.29999999999995" y="239.89999999999998" font-size="7.4" text-anchor="end" fill="#000" >300</text>
<line x1="299.29999999999995" y1="222.29999999999998" x2="300.9" y2="222.29999999999998" stroke="#999" stroke-width="0.8"/>
<text x="298.29999999999995" y="225.29999999999998" font-size="7.4" text-anchor="end" fill="#000" >400</text>
<line x1="299.29999999999995" y1="207.7" x2="300.9" y2="207.7" stroke="#999" stroke-width="0.8"/>
<text x="298.29999999999995" y="210.7" font-size="7.4" text-anchor="end" fill="#000" >500</text>
<text x="306" y="199.4" font-size="8.45" text-anchor="start" fill="#000" >AML, CD34<tspan dy="-2.8" font-size="4.6">+</tspan><tspan dy="2.8">/CD38</tspan><tspan dy="-2.5" dx="0.3" font-size="6" font-weight="normal" fill="#333">−</tspan></text>
<text x="268.2" y="241.9" font-size="7.4" text-anchor="middle" fill="#000" transform="rotate(-90 268.2 241.9)">PD-L1 expression</text>
<text x="276.6" y="241.9" font-size="7.4" text-anchor="middle" fill="#000" transform="rotate(-90 276.6 241.9)">(% of control)</text>
<text x="318.1" y="287.8" font-size="7.4" text-anchor="end" fill="#000" transform="rotate(-45 318.1 287.8)">control</text>
<text x="350.1" y="287.8" font-size="7.4" text-anchor="end" fill="#000" transform="rotate(-45 350.1 287.8)">control</text>
<text x="381.5" y="288.0" font-size="7.4" text-anchor="end" fill="#000" transform="rotate(-45 381.5 288.0)">JQ1 [3 µM]</text>
<polyline points="332.3,318.0 332.3,321.0 396.4,321.0 396.4,318.0" fill="none" stroke="#444" stroke-width="1"/>
<text x="364.4" y="332.8" font-size="7.9" text-anchor="middle" fill="#000" >IFN-G [100 U/ml]</text>
<rect x="455.1" y="268" width="21.299999999999955" height="12.300000000000011" fill="#00006a" stroke="#000022" stroke-width="0.8"/>
<rect x="486.8" y="213.6" width="21.399999999999977" height="66.70000000000002" fill="#00006a" stroke="#000022" stroke-width="0.8"/>
<rect x="518.2" y="260.1" width="21.59999999999991" height="20.19999999999999" fill="#00006a" stroke="#000022" stroke-width="0.8"/>
<line x1="449.8" y1="206.92000000000002" x2="449.8" y2="280.3" stroke="#888" stroke-width="0.9"/>
<line x1="449.8" y1="280.3" x2="545" y2="280.3" stroke="#888" stroke-width="0.9"/>
<line x1="448.2" y1="280.3" x2="449.8" y2="280.3" stroke="#888" stroke-width="0.8"/>
<text x="446.5" y="283.3" font-size="7.4" text-anchor="end" fill="#000" >0</text>
<line x1="448.2" y1="268.07" x2="449.8" y2="268.07" stroke="#888" stroke-width="0.8"/>
<text x="446.5" y="271.07" font-size="7.4" text-anchor="end" fill="#000" >100</text>
<line x1="448.2" y1="255.84" x2="449.8" y2="255.84" stroke="#888" stroke-width="0.8"/>
<text x="446.5" y="258.84000000000003" font-size="7.4" text-anchor="end" fill="#000" >200</text>
<line x1="448.2" y1="243.61" x2="449.8" y2="243.61" stroke="#888" stroke-width="0.8"/>
<text x="446.5" y="246.61" font-size="7.4" text-anchor="end" fill="#000" >300</text>
<line x1="448.2" y1="231.38" x2="449.8" y2="231.38" stroke="#888" stroke-width="0.8"/>
<text x="446.5" y="234.38" font-size="7.4" text-anchor="end" fill="#000" >400</text>
<line x1="448.2" y1="219.15" x2="449.8" y2="219.15" stroke="#888" stroke-width="0.8"/>
<text x="446.5" y="222.15" font-size="7.4" text-anchor="end" fill="#000" >500</text>
<line x1="448.2" y1="206.92000000000002" x2="449.8" y2="206.92000000000002" stroke="#888" stroke-width="0.8"/>
<text x="446.5" y="209.92000000000002" font-size="7.4" text-anchor="end" fill="#000" >600</text>
<text x="455" y="197.4" font-size="8.45" text-anchor="start" fill="#000" >AML, CD34<tspan dy="-2.8" font-size="4.6">+</tspan><tspan dy="2.8">/CD38</tspan><tspan dy="-2.8" font-size="4.6">+</tspan></text>
<text x="417.2" y="241.7" font-size="7.4" text-anchor="middle" fill="#000" transform="rotate(-90 417.2 241.7)">PD-L1 expression</text>
<text x="425.7" y="241.7" font-size="7.4" text-anchor="middle" fill="#000" transform="rotate(-90 425.7 241.7)">(% of control)</text>
<text x="466.8" y="286.8" font-size="7.4" text-anchor="end" fill="#000" transform="rotate(-45 466.8 286.8)">control</text>
<text x="498.90000000000003" y="286.8" font-size="7.4" text-anchor="end" fill="#000" transform="rotate(-45 498.90000000000003 286.8)">control</text>
<text x="530.3" y="287.2" font-size="7.4" text-anchor="end" fill="#000" transform="rotate(-45 530.3 287.2)">JQ1 [3 µM]</text>
<polyline points="480.8,317.8 480.8,320.8 544.9,320.8 544.9,317.8" fill="none" stroke="#444" stroke-width="1"/>
<text x="512.8" y="332.4" font-size="7.9" text-anchor="middle" fill="#000" >IFN-G [100 U/ml]</text>
</svg>
</body></html>
